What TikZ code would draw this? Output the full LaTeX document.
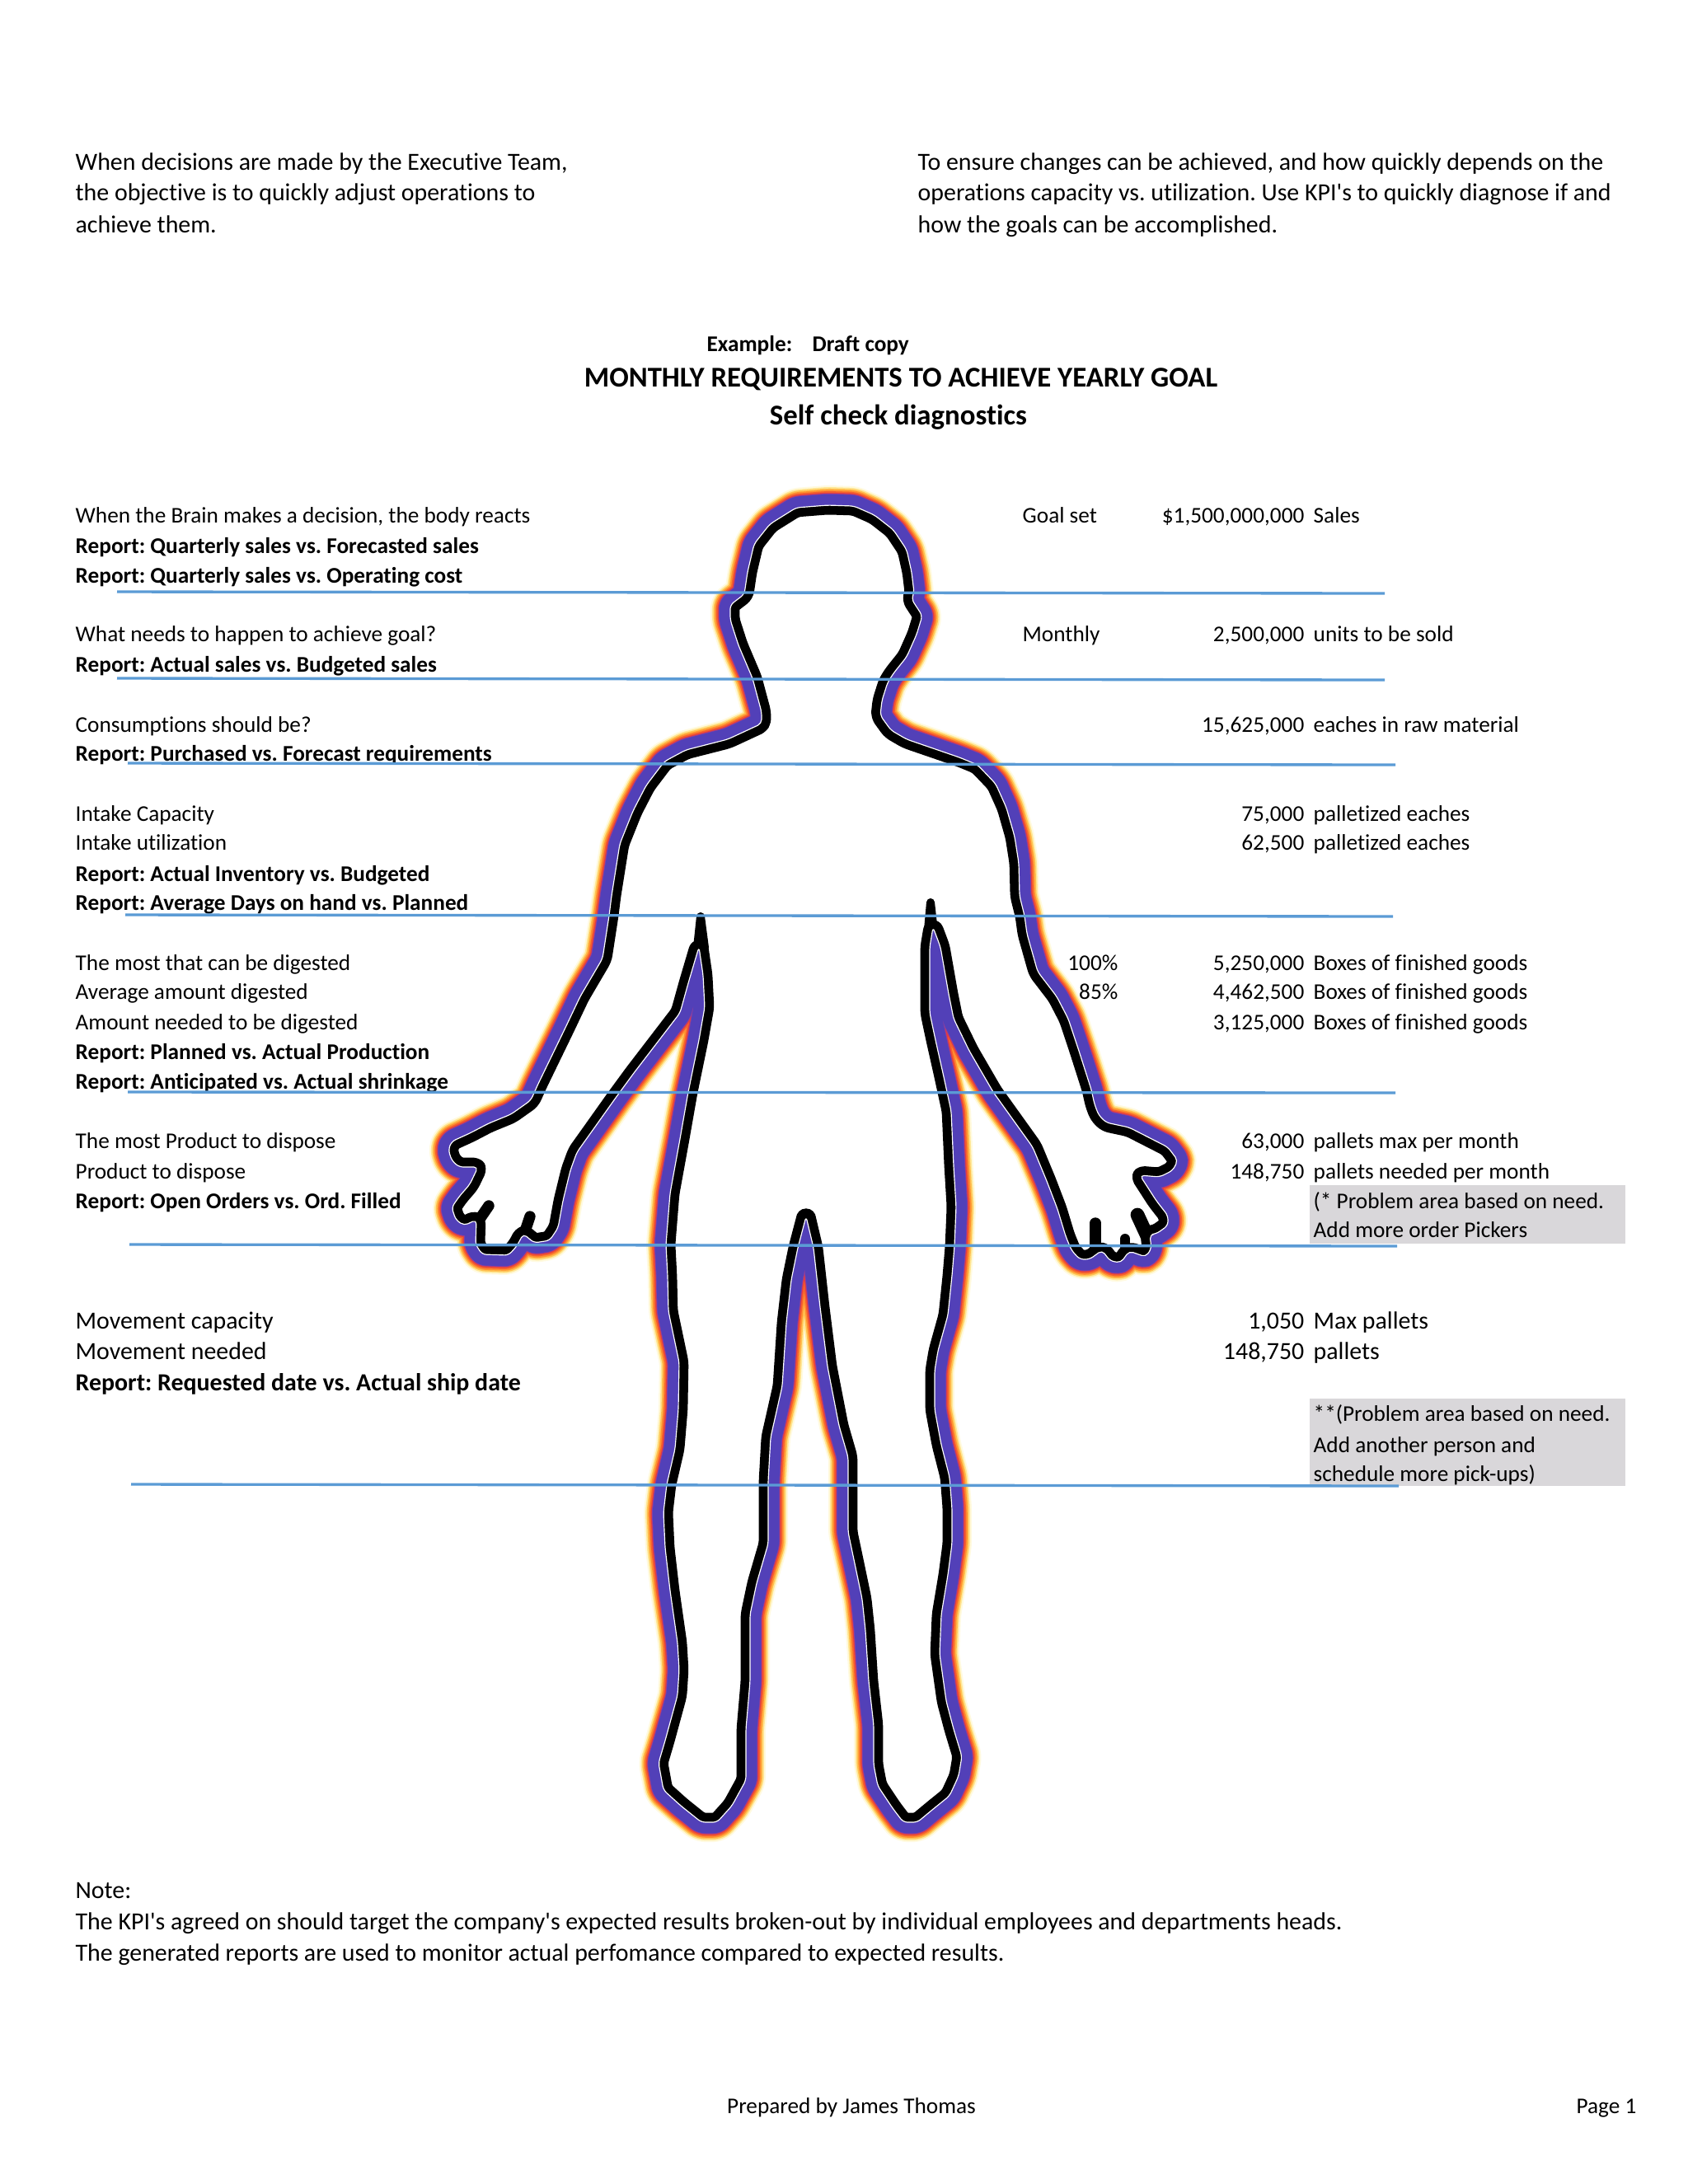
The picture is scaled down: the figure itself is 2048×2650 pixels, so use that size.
\documentclass[tikz,border=0pt]{standalone}
\usepackage{fontspec}
\newfontfamily\carlito{Carlito}[Ligatures=NoCommon]
\frenchspacing
\newcommand{\bodyoutline}{(1004,613) -- (1036,614) -- (1061,625) -- (1084,643) -- (1100,667) -- (1106,694) -- (1109,719) -- (1106,727) -- (1119,747) -- (1112,770) -- (1100,797) -- (1084,817) -- (1077,828) -- (1070,850) -- (1068,868) -- (1081,886) -- (1100,897) -- (1132,908) -- (1164,919) -- (1186,928) -- (1208,951) -- (1221,980) -- (1231,1015) -- (1236,1047) -- (1237,1087) -- (1243,1111) -- (1246,1133) -- (1259,1179) -- (1282,1209) -- (1296,1236) -- (1309,1275) -- (1324,1322) -- (1328,1340) -- (1333,1353) -- (1342,1362) -- (1370,1368) -- (1417,1392) -- (1429,1408) -- (1423,1420) -- (1407,1428) -- (1383,1426) -- (1403,1457) -- (1417,1475) -- (1417,1487) -- (1403,1497) -- (1395,1498) -- (1397,1515) -- (1390,1525) -- (1370,1518) -- (1360,1532) -- (1347,1530) -- (1337,1517) -- (1322,1528) -- (1310,1528) -- (1300,1517) -- (1293,1500) -- (1283,1467) -- (1270,1433) -- (1253,1392) -- (1205,1325) -- (1176,1275) -- (1157,1236) -- (1151,1206) -- (1141,1149) -- (1132,1125) -- (1128,1149) -- (1128,1193) -- (1128,1229) -- (1135,1262) -- (1144,1302) -- (1154,1348) -- (1157,1415) -- (1160,1464) -- (1158,1512) -- (1155,1548) -- (1150,1596) -- (1138,1639) -- (1134,1663) -- (1134,1710) -- (1142,1753) -- (1152,1792) -- (1155,1830) -- (1155,1873) -- (1150,1911) -- (1142,1959) -- (1140,2007) -- (1148,2064) -- (1157,2098) -- (1167,2131) -- (1163,2155) -- (1152,2179) -- (1131,2196) -- (1113,2211) -- (1096,2211) -- (1083,2194) -- (1065,2167) -- (1060,2141) -- (1060,2093) -- (1054,2040) -- (1050,1978) -- (1046,1940) -- (1037,1897) -- (1029,1859) -- (1029,1806) -- (1029,1768) -- (1018,1730) -- (1004,1658) -- (995,1586) -- (987,1514) -- (978,1476) -- (968,1514) -- (960,1553) -- (954,1605) -- (949,1682) -- (935,1744) -- (932,1797) -- (932,1873) -- (918,1921) -- (910,1959) -- (910,2040) -- (905,2098) -- (905,2160) -- (888,2191) -- (870,2211) -- (851,2211) -- (826,2191) -- (805,2172) -- (799,2139) -- (807,2112) -- (822,2057) -- (824,2026) -- (822,1993) -- (813,1930) -- (807,1878) -- (805,1835) -- (809,1801) -- (819,1758) -- (823,1710) -- (824,1653) -- (811,1591) -- (810,1548) -- (808,1510) -- (813,1448) -- (825,1382) -- (835,1325) -- (848,1262) -- (855,1222) -- (853,1183) -- (848,1149) -- (835,1193) -- (825,1229) -- (769,1302) -- (747,1332) -- (720,1370) -- (700,1398) -- (692,1420) -- (683,1457) -- (677,1490) -- (667,1505) -- (648,1508) -- (635,1497) -- (627,1512) -- (617,1523) -- (585,1522) -- (577,1510) -- (578,1480) -- (563,1487) -- (553,1480) -- (548,1465) -- (557,1452) -- (570,1437) -- (580,1416) -- (557,1416) -- (548,1408) -- (544,1395) -- (548,1385) -- (570,1375) -- (593,1363) -- (620,1352) -- (644,1335) -- (653,1315) -- (685,1249) -- (704,1209) -- (731,1163) -- (739,1111) -- (742,1087) -- (752,1024) -- (768,984) -- (784,953) -- (806,924) -- (832,910) -- (883,897) -- (924,878) -- (924,864) -- (913,823) -- (896,783) -- (886,752) -- (886,734) -- (903,721) -- (907,694) -- (915,660) -- (934,636) -- (966,616) -- cycle}
\definecolor{levelline}{HTML}{5B9BD5}
\definecolor{notegrey}{HTML}{D9D7DA}
\tikzset{
  basetxt/.style={anchor=west,inner sep=0pt,text height=1.5ex,text depth=.25ex},
  txt/.style={basetxt,yshift=-0.1pt,font=\carlito\fontsize{8.15}{9}\selectfont},
  txtb/.style={basetxt,yshift=-0.1pt,font=\carlito\fontsize{8.15}{9}\selectfont\bfseries},
  num/.style={txt,anchor=east},
  big/.style={basetxt,yshift=-0.3pt,font=\carlito\fontsize{8.93}{10}\selectfont},
  bigb/.style={basetxt,yshift=-0.3pt,font=\carlito\fontsize{8.93}{10}\selectfont\bfseries},
  bignum/.style={big,anchor=east},
  head/.style={basetxt,anchor=center,yshift=-0.7pt,font=\carlito\fontsize{10.4}{12}\selectfont\bfseries},
  levelrule/.style={levelline,line width=1pt},
  spike/.style={black,line width=4pt,line cap=round,line join=round}
}
\begin{document}
\begin{tikzpicture}[x=0.2988pt,y=-0.2988pt]
  \useasboundingbox (0,0) rectangle (2048,2650);
  \fill[notegrey] (1589,1438) rectangle (1972,1509);
  \fill[notegrey] (1589,1697) rectangle (1972,1803);
  \foreach \wd/\col in {14.4pt/FFFAE0,13.2pt/FFE898,12.2pt/FFC050,11.2pt/FF9030,10.2pt/F5602E,9.2pt/E03C44,8.5pt/8A3FA0,8.0pt/5240B8}{
    \definecolor{auralayer}{HTML}{\col}
    \draw[auralayer,line width=\wd,line join=round,rounded corners=1.5pt] \bodyoutline;
  }
  \fill[white,rounded corners=1.5pt] \bodyoutline;
  \begin{scope}
    \clip[rounded corners=1.5pt] \bodyoutline;
    \draw[black,line width=6.8pt,line join=round,rounded corners=1.5pt] \bodyoutline;
    \draw[spike,line width=3pt,fill=black] (850,1112) -- (846,1150) -- (855,1150) -- cycle;
    \draw[spike,line width=3pt,fill=black] (1129,1095) -- (1125,1140) -- (1134,1140) -- cycle;
    \draw[spike,line width=7pt] (978,1478) -- (978,1486);
    \draw[spike] (643,1476) -- (636,1497);
    \draw[spike] (593,1463) -- (578,1485);
    \draw[spike,line width=5pt] (1380,1474) -- (1392,1500);
    \draw[spike] (1329,1484) -- (1329,1520);
    \draw[spike,line width=3.6pt] (1365,1503) -- (1365,1520);
  \end{scope}
  \draw[white,line width=0.35pt,line join=round,rounded corners=1.5pt] \bodyoutline;

  \node[big] (introa) at (91,196) {When decisions are made by the Executive Team,};
  \node[big] (introb) at (91,233) {the objective is to quickly adjust operations to};
  \node[big] (introc) at (91,272) {achieve them.};
  \node[big] (introd) at (1113,196) {To ensure changes can be achieved, and how quickly depends on the};
  \node[big] (introe) at (1113,233) {operations capacity vs. utilization. Use KPI's to quickly diagnose if and};
  \node[big] (introf) at (1113,272) {how the goals can be accomplished.};

  \node[txtb] (example) at (857,417) {Example:};
  \node[txtb] (draft) at (985,417) {Draft copy};
  \node[head] (title) at (1093,458) {MONTHLY REQUIREMENTS TO ACHIEVE YEARLY GOAL};
  \node[head] (selfcheck) at (1090,504) {Self check diagnostics};

  \node[txt] (brain) at (91,625) {When the Brain makes a decision, the body reacts};
  \node[txtb] (brainra) at (91,662) {Report: Quarterly sales vs. Forecasted sales};
  \node[txtb] (brainrb) at (91,698) {Report: Quarterly sales vs. Operating cost};
  \node[txt] (need) at (91,769) {What needs to happen to achieve goal?};
  \node[txtb] (needr) at (91,806) {Report: Actual sales vs. Budgeted sales};
  \node[txt] (consume) at (91,879) {Consumptions should be?};
  \node[txtb] (consumer) at (91,914) {Report: Purchased vs. Forecast requirements};
  \node[txt] (intakea) at (91,987) {Intake Capacity};
  \node[txt] (intakeb) at (91,1022) {Intake utilization};
  \node[txtb] (intakera) at (91,1060) {Report: Actual Inventory vs. Budgeted};
  \node[txtb] (intakerb) at (91,1095) {Report: Average Days on hand vs. Planned};
  \node[txt] (digesta) at (91,1168) {The most that can be digested};
  \node[txt] (digestb) at (91,1203) {Average amount digested};
  \node[txt] (digestc) at (91,1240) {Amount needed to be digested};
  \node[txtb] (digestra) at (91,1276) {Report: Planned vs. Actual Production};
  \node[txtb] (digestrb) at (91,1312) {Report: Anticipated vs. Actual shrinkage};
  \node[txt] (disposea) at (91,1384) {The most Product to dispose};
  \node[txt] (disposeb) at (91,1421) {Product to dispose};
  \node[txtb] (disposer) at (91,1457) {Report: Open Orders vs. Ord. Filled};
  \node[big] (movea) at (91,1602) {Movement capacity};
  \node[big] (moveb) at (91,1639) {Movement needed};
  \node[bigb] (mover) at (91,1677) {Report: Requested date vs. Actual ship date};

  \node[txt] (goalset) at (1240,625) {Goal set};
  \node[num] (goalnum) at (1583,625) {\$1,500,000,000};
  \node[txt] (goalunit) at (1593,625) {Sales};
  \node[txt] (monthly) at (1240,769) {Monthly};
  \node[num] (monthnum) at (1583,769) {2,500,000};
  \node[txt] (monthunit) at (1593,769) {units to be sold};
  \node[num] (rawnum) at (1583,879) {15,625,000};
  \node[txt] (rawunit) at (1593,879) {eaches in raw material};
  \node[num] (palletnuma) at (1583,987) {75,000};
  \node[txt] (palletunita) at (1593,987) {palletized eaches};
  \node[num] (palletnumb) at (1583,1022) {62,500};
  \node[txt] (palletunitb) at (1593,1022) {palletized eaches};
  \node[num] (pcta) at (1357,1168) {100\%};
  \node[num] (pctb) at (1357,1203) {85\%};
  \node[num] (boxnuma) at (1583,1168) {5,250,000};
  \node[txt] (boxunita) at (1593,1168) {Boxes of finished goods};
  \node[num] (boxnumb) at (1583,1203) {4,462,500};
  \node[txt] (boxunitb) at (1593,1203) {Boxes of finished goods};
  \node[num] (boxnumc) at (1583,1240) {3,125,000};
  \node[txt] (boxunitc) at (1593,1240) {Boxes of finished goods};
  \node[num] (maxnum) at (1583,1384) {63,000};
  \node[txt] (maxunit) at (1593,1384) {pallets max per month};
  \node[num] (neednum) at (1583,1421) {148,750};
  \node[txt] (needunit) at (1593,1421) {pallets needed per month};
  \node[txt] (problema) at (1593,1457) {(* Problem area based on need.};
  \node[txt] (problemb) at (1593,1492) {Add more order Pickers};
  \node[bignum] (capnum) at (1583,1602) {1,050};
  \node[big] (capunit) at (1593,1602) {Max pallets};
  \node[bignum] (movenum) at (1583,1639) {148,750};
  \node[big] (moveunit) at (1593,1639) {pallets};
  \node[txt] (problemc) at (1593,1715) {**(Problem area based on need.};
  \node[txt] (problemd) at (1593,1753) {Add another person and};
  \node[txt] (probleme) at (1593,1788) {schedule more pick-ups)};

  \node[big] (notea) at (91,2293) {Note:};
  \node[big] (noteb) at (91,2331) {The KPI's agreed on should target the company's expected results broken-out by individual employees and departments heads.};
  \node[big] (notec) at (91,2369) {The generated reports are used to monitor actual perfomance compared to expected results.};
  \node[txt,anchor=center] (prepared) at (1033,2555) {Prepared by James Thomas};
  \node[txt,anchor=east] (page) at (1986,2555) {Page 1};

  \coordinate (la) at (142,718);   \coordinate (ra) at (1680,720);
  \coordinate (lb) at (142,823);   \coordinate (rb) at (1680,825);
  \coordinate (lc) at (155,926);   \coordinate (rc) at (1693,928);
  \coordinate (ld) at (152,1110);  \coordinate (rd) at (1690,1112);
  \coordinate (le) at (155,1325);  \coordinate (re) at (1693,1326);
  \coordinate (lf) at (157,1510);  \coordinate (rf) at (1695,1512);
  \coordinate (lg) at (159,1801);  \coordinate (rg) at (1697,1803);
  \draw[levelrule] (la) -- (ra);
  \draw[levelrule] (lb) -- (rb);
  \draw[levelrule] (lc) -- (rc);
  \draw[levelrule] (ld) -- (rd);
  \draw[levelrule] (le) -- (re);
  \draw[levelrule] (lf) -- (rf);
  \draw[levelrule] (lg) -- (rg);
\end{tikzpicture}
\end{document}
